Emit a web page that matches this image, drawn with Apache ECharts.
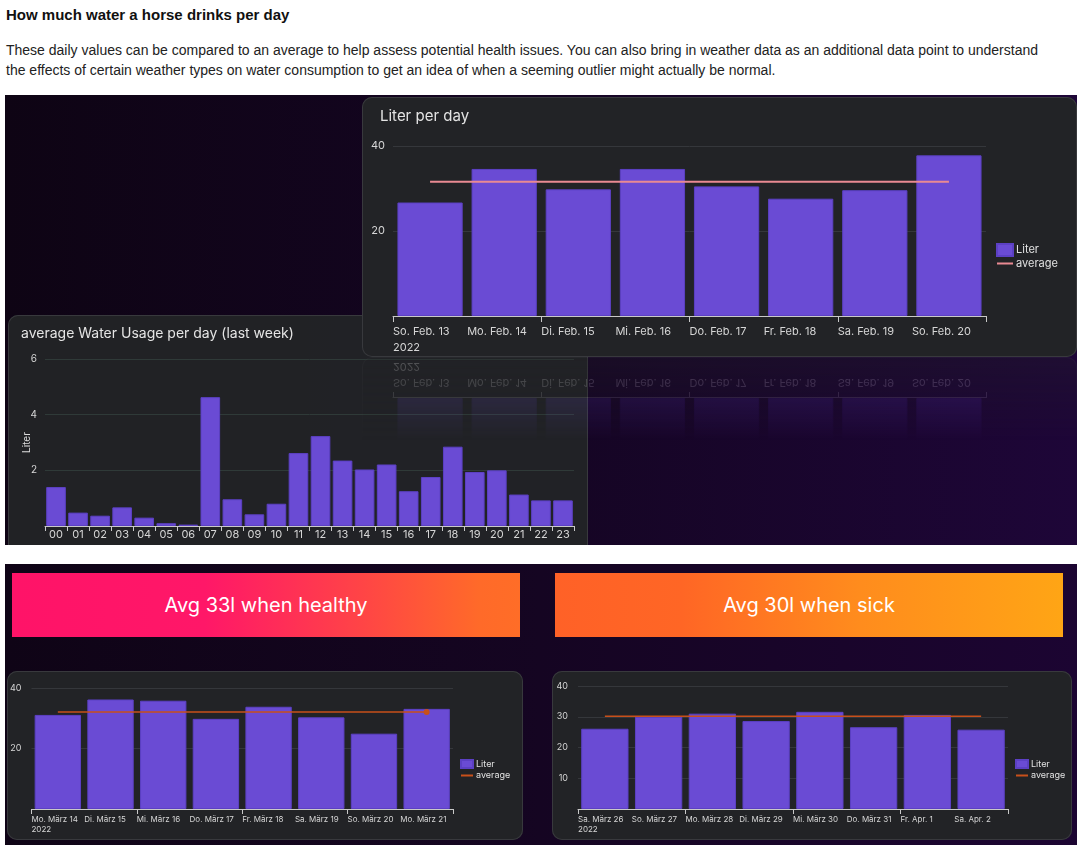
<!DOCTYPE html>
<html>
<head>
<meta charset="utf-8">
<script src="https://cdn.jsdelivr.net/npm/echarts@6/dist/echarts.min.js"></script>
<style>
  html, body { margin:0; padding:0; background:#fff; width:1086px; height:848px; overflow:hidden; }
  body { position:relative; font-family:"Liberation Sans", Arial, sans-serif; }
  #h { position:absolute; left:6px; top:6px; font-size:15px; font-weight:bold; color:#111; white-space:nowrap; }
  #p { position:absolute; left:6px; top:40px; font-size:14px; line-height:20px; color:#222; white-space:nowrap; }
  .area { position:absolute; overflow:hidden; }
  #top { left:5px; top:95px; width:1072px; height:450px;
         background:linear-gradient(to right, #0e0414 0%, #140521 45%, #1e0638 100%); }
  #bottom { left:5px; top:564px; width:1072px; height:281px;
         background:linear-gradient(to right, #0f0416 0%, #150522 50%, #1c0532 100%); }
  .panel { position:absolute; background:#222326; border-radius:10px;
           box-shadow: inset 0 0 0 1px #38393d; }
  #p1 { left:357px; top:2px; width:715px; height:260px; z-index:3;
        -webkit-box-reflect: below 0px linear-gradient(to bottom, rgba(0,0,0,0) 68%, rgba(0,0,0,0.28) 100%); }
  #p2 { left:3px; top:220px; width:580px; height:240px; z-index:2; background:rgba(34,35,38,0.97); }
  .banner { position:absolute; top:9px; width:508px; height:64px; color:#fff;
            font-family:Inter, "Noto Sans", sans-serif; font-size:20px; line-height:64px; text-align:center; }
  #b1 { left:7px; background:linear-gradient(to right, #ff1368 0%, #ff1768 38%, #ff4347 68%, #ff6a29 92%, #ff6d27 100%); }
  #b2 { left:550px; background:linear-gradient(to right, #ff6127 0%, #ff6625 25%, #ff8c1d 60%, #ffa515 100%); }
  #p3 { left:2px; top:107px; width:516px; height:169px; }
  #p4 { left:547px; top:107px; width:520px; height:169px; }
  .chart { position:absolute; left:0; top:0; width:100%; height:100%; }
</style>
</head>
<body>
<div id="h">How much water a horse drinks per day</div>
<div id="p">These daily values can be compared to an average to help assess potential health issues. You can also bring in weather data as an additional data point to understand<br>the effects of certain weather types on water consumption to get an idea of when a seeming outlier might actually be normal.</div>

<div id="top" class="area">
  <div id="p2" class="panel"><div id="c2" class="chart"></div></div>
  <div id="p1" class="panel"><div id="c1" class="chart"></div></div>
</div>

<div id="bottom" class="area">
  <div id="b1" class="banner">Avg 33l when healthy</div>
  <div id="b2" class="banner">Avg 30l when sick</div>
  <div id="p3" class="panel"><div id="c3" class="chart"></div></div>
  <div id="p4" class="panel"><div id="c4" class="chart"></div></div>
</div>

<script>
// ---------- data ----------
const year = '2022';

const daysFeb = ['So. Feb. 13','Mo. Feb. 14','Di. Feb. 15','Mi. Feb. 16','Do. Feb. 17','Fr. Feb. 18','Sa. Feb. 19','So. Feb. 20'];
const literFeb = [26.7, 34.6, 29.8, 34.6, 30.5, 27.6, 29.6, 37.8];
const avgFeb = 31.6;

const hours = ['00','01','02','03','04','05','06','07','08','09','10','11','12','13','14','15','16','17','18','19','20','21','22','23'];
const hourlyLiter = [1.40, 0.48, 0.37, 0.67, 0.30, 0.10, 0.05, 4.63, 0.96, 0.42, 0.80, 2.62, 3.23, 2.35, 2.03, 2.21, 1.25, 1.76, 2.85, 1.94, 2.00, 1.13, 0.92, 0.92];

const daysHealthy = ['Mo. März 14','Di. März 15','Mi. März 16','Do. März 17','Fr. März 18','Sa. März 19','So. März 20','Mo. März 21'];
const literHealthy = [31.1, 36.2, 35.8, 29.8, 33.8, 30.3, 24.9, 33.1];
const avgHealthy = 32.1;

const daysSick = ['Sa. März 26','So. März 27','Mo. März 28','Di. März 29','Mi. März 30','Do. März 31','Fr. Apr. 1','Sa. Apr. 2'];
const literSick = [26.1, 30.0, 31.0, 28.6, 31.6, 26.6, 30.6, 25.8];
const avgSick = 30.2;

// ---------- styling ----------
const BAR = '#6a4bd4';
const FONT = 'Inter, "Noto Sans", sans-serif';
const AXIS = '#c9c9c9';
const GRIDC = '#35373b';
const LBL = '#d6d6d6';

function dayOption(c) {
  const avgData = c.days.map((d, i) => (c.lastDot && i === c.days.length - 1)
      ? { value: c.avg, symbol: 'circle', symbolSize: c.dotSize, itemStyle: { color: c.avgColor } }
      : c.avg);
  return {
    animation: false,
    textStyle: { fontFamily: FONT },
    title: c.title ? { text: c.title, left: c.titleLeft, top: c.titleTop,
      textStyle: { color: '#e4e4e4', fontSize: c.titleSize, fontWeight: 'normal', fontFamily: FONT } } : { show: false },
    legend: {
      orient: 'vertical', left: c.legLeft, top: c.legTop, itemWidth: c.legW, itemHeight: c.legH,
      itemGap: c.legGap, padding: 0,
      textStyle: { color: '#e2e2e2', fontSize: c.legFont, fontFamily: FONT, padding: [0, 0, 0, -2] },
      data: [
        { name: 'Liter', icon: 'rect' },
        { name: 'average', itemStyle: { opacity: 0, color: 'rgba(0,0,0,0)', borderWidth: 0 },
          lineStyle: { color: c.avgColor, width: 2 } }
      ]
    },
    grid: { left: c.gl, right: c.gr, top: c.gt, bottom: c.gb },
    xAxis: [
      { type: 'category', data: c.days,
        axisLine: { lineStyle: { color: AXIS, width: 1 } },
        axisTick: { show: true, length: c.tickLen, lineStyle: { color: AXIS } },
        axisLabel: { show: false } },
      { type: 'category', data: c.days.concat(['']), boundaryGap: false, position: 'bottom',
        axisLine: { show: false }, axisTick: { show: false }, splitLine: { show: false },
        axisLabel: { interval: 0, align: 'left', color: LBL, fontSize: c.xFont, lineHeight: c.xLine,
          margin: c.xMargin, fontFamily: FONT,
          formatter: (v, i) => i === 0 ? v + '\n' + year : v } }
    ],
    yAxis: { type: 'value', min: 0, max: 40, interval: c.yInt,
      axisLine: { show: false }, axisTick: { show: false },
      axisLabel: { color: LBL, fontSize: c.yFont, margin: c.yMargin, fontFamily: FONT,
        formatter: v => v === 0 ? '' : String(v) },
      splitLine: { lineStyle: { color: GRIDC, width: 1 } } },
    series: [
      { name: 'Liter', type: 'bar', data: c.liter, barCategoryGap: '12%',
        itemStyle: { color: BAR, borderColor: '#5c40c4', borderWidth: 1 } },
      { name: 'average', type: 'line', data: avgData, symbol: 'none', z: 5,
        itemStyle: { color: c.avgColor },
        lineStyle: { color: c.avgColor, width: c.avgWidth } }
    ]
  };
}

// Chart 1: Liter per day
const c1 = echarts.init(document.getElementById('c1'), null, { renderer: 'canvas' });
c1.setOption(dayOption({
  title: 'Liter per day', titleLeft: 13, titleTop: 7, titleSize: 15,
  days: daysFeb, liter: literFeb, avg: avgFeb,
  gl: 31, gr: 91, gt: 49, gb: 41,
  legLeft: 634, legTop: 146, legW: 16, legH: 12, legGap: 1, legFont: 11,
  tickLen: 6, xFont: 11, xLine: 16, xMargin: 8, yFont: 11, yMargin: 8, yInt: 20,
  avgColor: '#e98a92', avgWidth: 2, lastDot: false
}));

// Chart 2: average water usage per hour
const c2 = echarts.init(document.getElementById('c2'), null, { renderer: 'canvas' });
c2.setOption({
  animation: false,
  textStyle: { fontFamily: FONT },
  title: { text: 'average Water Usage per day (last week)', left: 8, top: 7,
    textStyle: { color: '#e4e4e4', fontSize: 14, fontWeight: 'normal', fontFamily: FONT } },
  grid: { left: 37, right: 14, top: 44, bottom: 29 },
  xAxis: { type: 'category', data: hours,
    axisLine: { lineStyle: { color: AXIS } },
    axisTick: { show: true, length: 5, lineStyle: { color: AXIS } },
    axisLabel: { interval: 0, color: LBL, fontSize: 11, margin: 3, fontFamily: FONT } },
  yAxis: { type: 'value', min: 0, max: 6, interval: 2, name: 'Liter', nameLocation: 'middle', nameGap: 13,
    nameMoveOverlap: false,
    nameTextStyle: { color: '#dcdcdc', fontSize: 10, fontFamily: FONT },
    axisLine: { show: false }, axisTick: { show: false },
    axisLabel: { color: LBL, fontSize: 10, margin: 8, fontFamily: FONT, formatter: v => v === 0 ? '' : String(v) },
    splitLine: { lineStyle: { color: '#2f3a38' } } },
  series: [{ name: 'Liter', type: 'bar', data: hourlyLiter, barCategoryGap: '11%',
    itemStyle: { color: BAR, borderColor: '#5c40c4', borderWidth: 1 } }]
});

// Chart 3: healthy
const c3 = echarts.init(document.getElementById('c3'), null, { renderer: 'canvas' });
c3.setOption(dayOption({
  title: null,
  days: daysHealthy, liter: literHealthy, avg: avgHealthy,
  gl: 24, gr: 70, gt: 17, gb: 31,
  legLeft: 453, legTop: 88, legW: 12, legH: 8, legGap: 2, legFont: 9,
  tickLen: 5, xFont: 8, xLine: 10, xMargin: 6, yFont: 9, yMargin: 10, yInt: 20,
  avgColor: '#c8501a', avgWidth: 1.5, lastDot: true, dotSize: 6
}));

// Chart 4: sick
const c4 = echarts.init(document.getElementById('c4'), null, { renderer: 'canvas' });
c4.setOption(dayOption({
  title: null,
  days: daysSick, liter: literSick, avg: avgSick,
  gl: 26, gr: 64, gt: 15, gb: 31,
  legLeft: 463, legTop: 88, legW: 12, legH: 8, legGap: 2, legFont: 9,
  tickLen: 5, xFont: 8, xLine: 10, xMargin: 6, yFont: 9, yMargin: 10, yInt: 10,
  avgColor: '#c8501a', avgWidth: 1.5, lastDot: false
}));
</script>
</body>
</html>
